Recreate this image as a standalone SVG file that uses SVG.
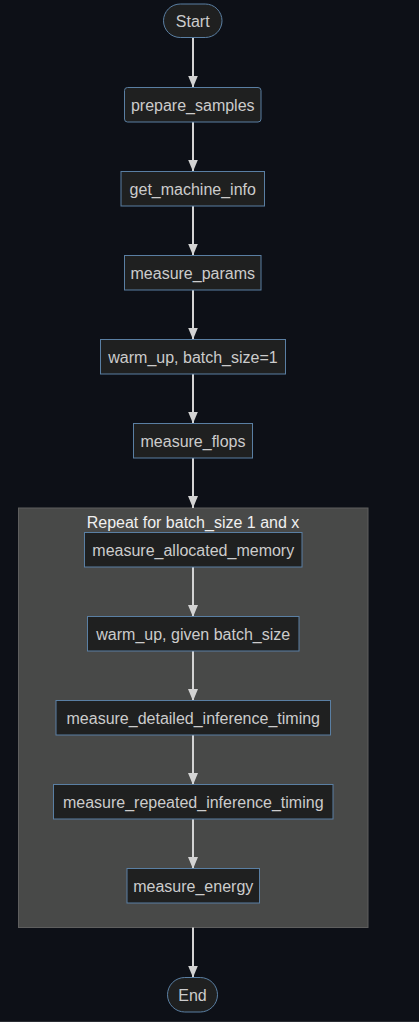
<svg xmlns="http://www.w3.org/2000/svg" width="419" height="1022" viewBox="0 0 419 1022">
<defs>
<style>
.n rect{fill:#1f2020;stroke:#5a7fa3;stroke-width:1}
.n text{fill:#cccccc;font-family:"Liberation Sans",Arial,sans-serif;font-size:16px;text-anchor:middle}
.e line{stroke:#d3d3d3;stroke-width:2}
.cl{fill:#484948;stroke:#5e5e5e;stroke-width:1}
.ct{fill:#f0f0f0;font-family:"Liberation Sans",Arial,sans-serif;font-size:16px;text-anchor:middle}
</style>
<marker id="ah" viewBox="0 0 12 10" refX="12" refY="5" markerWidth="12" markerHeight="10" markerUnits="userSpaceOnUse" orient="auto">
<path d="M0,0 L12,5 L0,10 z" fill="#d3d3d3"/>
</marker>
</defs>
<rect x="0" y="0" width="419" height="1022" fill="#0d1017"/>
<rect x="0" y="1021" width="419" height="1" fill="#2a2d33"/>
<g id="cluster">
<rect class="cl" x="18.5" y="508" width="349.5" height="419.5"/>
<text class="ct" x="193" y="528">Repeat for batch_size 1 and x</text>
</g>
<g id="edges" class="e">
<line x1="193" y1="37.5" x2="193" y2="87.5" marker-end="url(#ah)"/>
<line x1="193" y1="122" x2="193" y2="171.5" marker-end="url(#ah)"/>
<line x1="193" y1="206" x2="193" y2="255.5" marker-end="url(#ah)"/>
<line x1="193" y1="290" x2="193" y2="339.5" marker-end="url(#ah)"/>
<line x1="193" y1="374" x2="193" y2="423.5" marker-end="url(#ah)"/>
<line x1="193" y1="458" x2="193" y2="508" marker-end="url(#ah)"/>
<line x1="193" y1="567" x2="193" y2="617" marker-end="url(#ah)"/>
<line x1="193" y1="651" x2="193" y2="701" marker-end="url(#ah)"/>
<line x1="193" y1="735" x2="193" y2="785" marker-end="url(#ah)"/>
<line x1="193" y1="819" x2="193" y2="869" marker-end="url(#ah)"/>
<line x1="193" y1="927.5" x2="193" y2="977.5" marker-end="url(#ah)"/>
</g>
<g id="start" class="n"><rect x="163.5" y="4" width="58.5" height="33.5" rx="16.75"/><text x="192.75" y="26.5">Start</text></g>
<g id="prepare_samples" class="n"><rect x="124.5" y="87.5" width="136.5" height="34.5" rx="3"/><text x="192.75" y="110.5">prepare_samples</text></g>
<g id="get_machine_info" class="n"><rect x="121" y="171.5" width="143.5" height="34.5"/><text x="192.75" y="194.5">get_machine_info</text></g>
<g id="measure_params" class="n"><rect x="124.5" y="255.5" width="136.5" height="34.5"/><text x="192.75" y="278.5">measure_params</text></g>
<g id="warm_up_1" class="n"><rect x="100.5" y="339.5" width="185" height="34.5"/><text x="193" y="362.5">warm_up, batch_size=1</text></g>
<g id="measure_flops" class="n"><rect x="133.5" y="423.5" width="119" height="34.5"/><text x="193" y="446.5">measure_flops</text></g>
<g id="measure_allocated_memory" class="n"><rect x="84.5" y="532.5" width="217.5" height="34.5"/><text x="193.25" y="555.5">measure_allocated_memory</text></g>
<g id="warm_up_given" class="n"><rect x="87.5" y="616.5" width="211.5" height="34.5"/><text x="193.25" y="639.5">warm_up, given batch_size</text></g>
<g id="measure_detailed_inference_timing" class="n"><rect x="56" y="700.5" width="274.5" height="34.5"/><text x="193.25" y="723.5">measure_detailed_inference_timing</text></g>
<g id="measure_repeated_inference_timing" class="n"><rect x="53.5" y="784.5" width="279.5" height="34.5"/><text x="193.25" y="807.5">measure_repeated_inference_timing</text></g>
<g id="measure_energy" class="n"><rect x="127" y="868.5" width="132.5" height="34.5"/><text x="193.25" y="891.5">measure_energy</text></g>
<g id="end" class="n"><rect x="167.5" y="977.5" width="50" height="34.5" rx="17.25"/><text x="192.5" y="1000.5">End</text></g>
</svg>
